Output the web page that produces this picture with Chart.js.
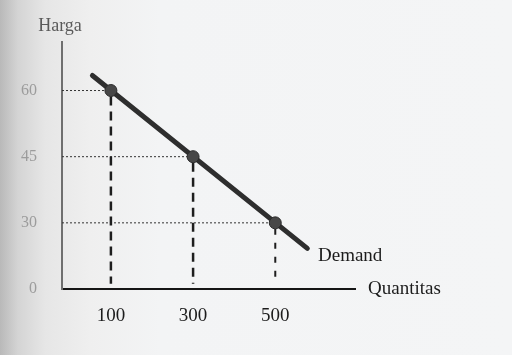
<!DOCTYPE html>
<html>
<head>
<meta charset="utf-8">
<script src="https://cdn.jsdelivr.net/npm/chart.js@4/dist/chart.umd.min.js"></script>
<style>
  html, body { margin: 0; padding: 0; }
  body {
    width: 512px; height: 355px; overflow: hidden;
    background: linear-gradient(to right, #b9b9b9 0px, #d4d4d4 18px, #e6e6e6 45px, #efefef 90px, #f3f4f5 160px, #f4f5f6 100%);
  }
  #wrap { position: absolute; left: 0; top: 0; width: 512px; height: 355px; }
</style>
</head>
<body>
<div id="wrap"><canvas id="c" width="512" height="355"></canvas></div>
<script>
// ---- data ----
const quantities = [100, 300, 500];          // Quantitas at the marked points
const prices = [60, 45, 30];                 // Harga at the marked points
const demandLineQ = [55, 578];               // ends of the drawn demand line
const demandLineP = [63.4, 24.2];
const xTicks = [100, 300, 500];
const yTicks = [15, 30, 45, 60];             // bottom of the (broken) axis is labelled 0
const yTickLabels = ['0', '30', '45', '60'];
const axisLabels = { y: 'Harga', x: 'Quantitas', curve: 'Demand' };

const X_MIN = -19, X_MAX = 694, Y_MIN = 15, Y_MAX = 71;
const V_END = 16.2; // where the dashed drop-lines stop, just above the axis

const datasets = [];
quantities.forEach((q, i) => {
  datasets.push({
    data: [{ x: X_MIN, y: prices[i] }, { x: q, y: prices[i] }],
    borderColor: '#333', borderWidth: 1, borderDash: [2, 2],
    pointRadius: 0, showLine: true, order: 3
  });
  datasets.push({
    data: [{ x: q, y: prices[i] }, { x: q, y: V_END }],
    borderColor: '#1e1e1e', borderWidth: i === 2 ? 2 : 2.5,
    borderDash: i === 2 ? [6, 8] : [9, 6], borderDashOffset: -6,
    pointRadius: 0, showLine: true, order: 3
  });
});
datasets.push({
  data: demandLineQ.map((q, i) => ({ x: q, y: demandLineP[i] })),
  borderColor: '#2e2e2e', borderWidth: 5, borderCapStyle: 'round',
  pointRadius: 0, showLine: true, order: 2
});
datasets.push({
  data: quantities.map((q, i) => ({ x: q, y: prices[i] })),
  backgroundColor: '#474747', borderColor: '#2a2a2a', borderWidth: 1,
  pointRadius: 6, showLine: false, order: 1
});

const textPlugin = {
  id: 'labels',
  afterDraw(chart) {
    const ctx = chart.ctx;
    ctx.save();
    ctx.font = '18px "Liberation Serif", "Times New Roman", serif';
    ctx.textBaseline = 'middle';
    ctx.fillStyle = '#5a5a5a';
    ctx.textAlign = 'center';
    ctx.fillText(axisLabels.y, 60, 26);
    ctx.fillStyle = '#1c1c1c';
    ctx.textAlign = 'left';
    ctx.font = '19px "Liberation Serif", "Times New Roman", serif';
    ctx.fillText(axisLabels.curve, 318, 256);
    ctx.fillText(axisLabels.x, 368, 289);
    ctx.restore();
  }
};

new Chart(document.getElementById('c'), {
  type: 'scatter',
  data: { datasets },
  options: {
    responsive: false,
    animation: false,
    devicePixelRatio: 1,
    layout: { padding: { left: 0, top: 42, right: 157, bottom: 0 } },
    plugins: { legend: { display: false }, tooltip: { enabled: false } },
    scales: {
      x: {
        type: 'linear', min: X_MIN, max: X_MAX, position: 'bottom',
        grid: { display: false, drawTicks: false },
        border: { display: true, color: '#151515', width: 2 },
        afterBuildTicks(scale) { scale.ticks = xTicks.map(v => ({ value: v })); },
        afterFit(scale) { scale.height = 66; },
        ticks: {
          padding: 16, color: '#1c1c1c', maxRotation: 0, autoSkip: false,
          font: { family: '"Liberation Serif", "Times New Roman", serif', size: 19 }
        }
      },
      y: {
        type: 'linear', min: Y_MIN, max: Y_MAX, position: 'left',
        grid: { display: false, drawTicks: false },
        border: { display: true, color: '#6f6f6f', width: 2 },
        afterBuildTicks(scale) { scale.ticks = yTicks.map(v => ({ value: v })); },
        afterFit(scale) { scale.width = 62; },
        ticks: {
          padding: 25, color: '#9c9c9c', autoSkip: false,
          font: { family: '"Liberation Serif", "Times New Roman", serif', size: 16 },
          callback(v) { const i = yTicks.indexOf(v); return i >= 0 ? yTickLabels[i] : ''; }
        }
      }
    }
  },
  plugins: [textPlugin]
});
</script>
</body>
</html>
